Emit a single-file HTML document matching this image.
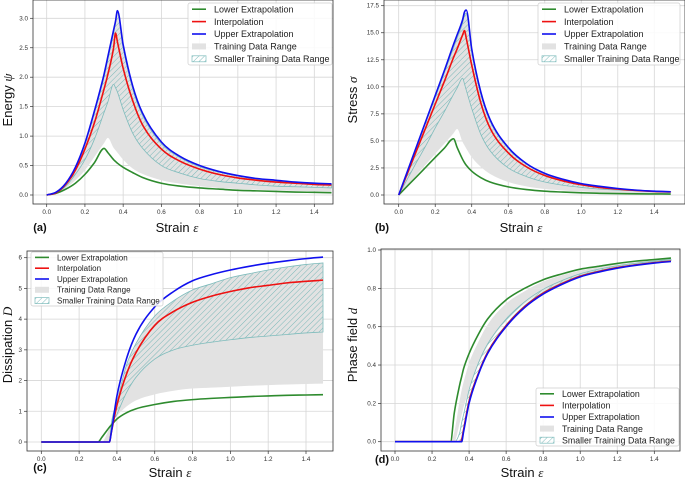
<!DOCTYPE html>
<html><head><meta charset="utf-8">
<style>
html,body{margin:0;padding:0;background:#fff;}
svg{display:block;font-family:"Liberation Sans",sans-serif;}
</style></head>
<body>
<svg id="fig" width="685" height="481" viewBox="0 0 685 481" xmlns="http://www.w3.org/2000/svg">
<defs>
<pattern id="hatch" patternUnits="userSpaceOnUse" width="4" height="4" patternTransform="rotate(45)">
<line x1="0" y1="0" x2="0" y2="4" stroke="#6fb3b3" stroke-width="0.9"/>
</pattern>
</defs>
</svg>
<script>
// shared strain grid
const strain = [0,0.05,0.1,0.15,0.2,0.25,0.3,0.32,0.35,0.36,0.37,0.4,0.45,0.5,0.6,0.7,0.8,0.9,1.0,1.1,1.2,1.3,1.4,1.49];

// (a) energy
const energyUpper = [0,0.05,0.2,0.47,0.88,1.43,2.05,2.35,2.8,2.95,3.13,2.55,1.85,1.4,0.9,0.65,0.5,0.4,0.33,0.28,0.25,0.22,0.2,0.19];
const energyInterp = [0,0.04,0.18,0.42,0.78,1.23,1.8,2.05,2.5,2.75,2.6,2.15,1.6,1.2,0.78,0.57,0.44,0.35,0.29,0.25,0.22,0.2,0.18,0.17];
const energyLower = [0,0.03,0.1,0.2,0.35,0.55,0.79,0.72,0.6,0.57,0.54,0.47,0.38,0.3,0.2,0.15,0.12,0.1,0.08,0.07,0.06,0.05,0.045,0.04];
const energyTrainLo = [0,0.03,0.12,0.25,0.42,0.65,0.88,0.97,0.8,0.76,0.72,0.6,0.45,0.36,0.25,0.19,0.15,0.12,0.1,0.09,0.08,0.07,0.065,0.06];
const energyTrainHi = [0,0.05,0.19,0.45,0.86,1.4,2.0,2.3,2.75,2.92,3.1,2.5,1.8,1.36,0.87,0.63,0.48,0.39,0.32,0.27,0.24,0.21,0.19,0.18];
const energySmallLo = [0,0.04,0.15,0.35,0.6,0.95,1.4,1.58,1.88,1.82,1.75,1.45,1.05,0.8,0.5,0.37,0.28,0.23,0.2,0.17,0.15,0.14,0.13,0.12];
const energySmallHi = [0,0.05,0.19,0.45,0.86,1.4,2.0,2.3,2.75,2.92,3.1,2.5,1.8,1.36,0.87,0.63,0.48,0.39,0.32,0.27,0.24,0.21,0.19,0.18];
const energyTicks = [0,0.5,1.0,1.5,2.0,2.5,3.0];

// (b) stress
const stressUpper = [0,2.3,4.6,6.9,9.2,11.5,13.9,14.8,16.2,16.9,17.1,13.5,9.5,7,4.4,2.9,2.0,1.45,1.05,0.8,0.6,0.45,0.35,0.3];
const stressInterp = [0,2.1,4.2,6.3,8.4,10.5,12.7,13.5,14.8,15.2,14.5,12.0,8.5,6.2,3.9,2.6,1.8,1.3,0.95,0.7,0.55,0.42,0.33,0.28];
const stressLower = [0,0.87,1.73,2.6,3.47,4.33,5.2,4.4,3.3,3.0,2.75,2.2,1.6,1.2,0.75,0.5,0.35,0.27,0.2,0.16,0.13,0.11,0.1,0.09];
const stressTrainLo = [0,0.95,1.9,2.85,3.8,4.75,5.7,6.1,4.9,4.6,4.3,3.5,2.6,1.95,1.2,0.8,0.55,0.42,0.32,0.26,0.21,0.18,0.16,0.15];
const stressTrainHi = [0,2.25,4.5,6.8,9.0,11.3,13.6,14.5,15.9,16.6,16.8,13.2,9.3,6.85,4.3,2.85,1.95,1.42,1.03,0.78,0.58,0.44,0.34,0.29];
const stressSmallLo = [0,1.55,3.1,4.6,6.2,7.7,9.3,9.9,10.8,10.3,9.7,8.0,5.6,4.1,2.5,1.7,1.2,0.9,0.7,0.55,0.45,0.38,0.33,0.3];
const stressSmallHi = [0,2.25,4.5,6.8,9.0,11.3,13.6,14.5,15.9,16.6,16.8,13.2,9.3,6.85,4.3,2.85,1.95,1.42,1.03,0.78,0.58,0.44,0.34,0.29];
const stressTicks = [0,2.5,5.0,7.5,10.0,12.5,15.0,17.5];

// (c) dissipation
const dissUpper = [0,0,0,0,0,0,0,0,0,0,0.3,1.5,2.7,3.5,4.4,4.9,5.25,5.45,5.6,5.72,5.82,5.9,5.97,6.02];
const dissInterp = [0,0,0,0,0,0,0,0,0,0,0.3,1.2,2.2,2.9,3.8,4.25,4.55,4.75,4.9,5.02,5.1,5.18,5.23,5.27];
const dissLower = [0,0,0,0,0,0,0,0.15,0.4,0.48,0.55,0.75,0.95,1.08,1.22,1.32,1.38,1.42,1.45,1.48,1.5,1.52,1.53,1.54];
const dissTrainLo = [0,0,0,0,0,0,0,0,0.3,0.45,0.6,0.85,1.15,1.35,1.55,1.67,1.74,1.77,1.8,1.83,1.85,1.87,1.89,1.9];
const dissTrainHi = [0,0,0,0,0,0,0,0,0,0,0.6,1.3,2.5,3.2,4.1,4.6,4.95,5.15,5.35,5.48,5.6,5.7,5.78,5.83];
const dissSmallLo = [0,0,0,0,0,0,0,0,0,0,0.5,0.9,1.6,2.1,2.7,3.0,3.15,3.25,3.33,3.4,3.45,3.5,3.55,3.58];
const dissSmallHi = [0,0,0,0,0,0,0,0,0,0,0.6,1.3,2.5,3.2,4.1,4.6,4.95,5.15,5.35,5.48,5.6,5.7,5.78,5.83];
const dissTicks = [0,1,2,3,4,5,6];

// (d) phase field
const phaseUpper = [0,0,0,0,0,0,0,0,0,0,0.05,0.2,0.35,0.46,0.6,0.7,0.77,0.82,0.86,0.885,0.905,0.92,0.932,0.94];
const phaseInterp = [0,0,0,0,0,0,0,0,0,0.01,0.06,0.21,0.355,0.465,0.605,0.705,0.775,0.824,0.863,0.888,0.908,0.922,0.934,0.942];
const phaseLower = [0,0,0,0,0,0,0,0.15,0.3,0.34,0.38,0.46,0.56,0.64,0.74,0.8,0.845,0.875,0.9,0.915,0.93,0.942,0.95,0.958];
const phaseTrainLo = [0,0,0,0,0,0,0,0,0.1,0.14,0.18,0.27,0.4,0.5,0.63,0.72,0.785,0.83,0.868,0.893,0.912,0.926,0.938,0.946];
const phaseTrainHi = [0,0,0,0,0,0,0,0.05,0.22,0.27,0.31,0.41,0.52,0.61,0.72,0.785,0.835,0.868,0.893,0.91,0.924,0.937,0.946,0.953];
const phaseSmallLo = [0,0,0,0,0,0,0,0,0,0.02,0.07,0.22,0.36,0.47,0.61,0.71,0.78,0.828,0.867,0.892,0.911,0.925,0.937,0.945];
const phaseSmallHi = [0,0,0,0,0,0,0,0,0.05,0.1,0.14,0.27,0.41,0.51,0.64,0.73,0.795,0.84,0.876,0.9,0.918,0.931,0.942,0.95];
const phaseTicks = [0,0.2,0.4,0.6,0.8,1.0];

const xTicks = [0,0.2,0.4,0.6,0.8,1.0,1.2,1.4];
const legendLabels = ["Lower Extrapolation","Interpolation","Upper Extrapolation","Training Data Range","Smaller Training Data Range"];

const NS = "http://www.w3.org/2000/svg";
const svg = document.getElementById("fig");
function mk(tag, attrs, parent){
  const e = document.createElementNS(NS, tag);
  for (const k in attrs) e.setAttribute(k, attrs[k]);
  (parent||svg).appendChild(e);
  return e;
}

// monotone cubic (Fritsch-Carlson) path segments in data space
function monoSegs(xArr, yArr, xs, ys){
  const n = xArr.length, d = [], m = new Array(n);
  for (let i=0;i<n-1;i++) d.push((yArr[i+1]-yArr[i])/(xArr[i+1]-xArr[i]));
  m[0]=d[0]; m[n-1]=d[n-2];
  for (let i=1;i<n-1;i++){
    if (d[i-1]*d[i] <= 0) m[i]=0; else m[i]=(d[i-1]+d[i])/2;
  }
  for (let i=0;i<n-1;i++){
    if (d[i]===0){ m[i]=0; m[i+1]=0; continue; }
    const a=m[i]/d[i], b=m[i+1]/d[i], s=a*a+b*b;
    if (s>9){ const t=3/Math.sqrt(s); m[i]=t*a*d[i]; m[i+1]=t*b*d[i]; }
  }
  const segs=[];
  for (let i=0;i<n-1;i++){
    const h=xArr[i+1]-xArr[i];
    segs.push([xs(xArr[i]+h/3), ys(yArr[i]+m[i]*h/3), xs(xArr[i+1]-h/3), ys(yArr[i+1]-m[i+1]*h/3), xs(xArr[i+1]), ys(yArr[i+1])]);
  }
  return segs;
}
function pathFwd(xArr,yArr,xs,ys){
  let d = "M"+xs(xArr[0])+","+ys(yArr[0]);
  monoSegs(xArr,yArr,xs,ys).forEach(s=>{ d+=" C"+s[0]+","+s[1]+" "+s[2]+","+s[3]+" "+s[4]+","+s[5]; });
  return d;
}

const panels = [
 {id:"a", box:[33,0,333,204], x0:46.7, x14:314.3, yv0:0, yp0:195, yv1:3.0, yp1:18.3, yTicks:energyTicks, fmt:v=>v.toFixed(1),
  up:energyUpper, mid:energyInterp, lo:energyLower, tlo:energyTrainLo, thi:energyTrainHi, slo:energySmallLo, shi:energySmallHi,
  leg:[188,3,144,62,9], ylab:"Energy ", ysym:"ψ", ylx:12, yly:100, xlx:177, xly:232, tag:"(a)", tx:40, ty:231},
 {id:"b", box:[384,0,685,204], x0:398.7, x14:654.3, yv0:0, yp0:195, yv1:17.5, yp1:5.7, yTicks:stressTicks, fmt:v=>v.toFixed(1),
  up:stressUpper, mid:stressInterp, lo:stressLower, tlo:stressTrainLo, thi:stressTrainHi, slo:stressSmallLo, shi:stressSmallHi,
  leg:[538,3,142,62,9], ylab:"Stress ", ysym:"σ", ylx:357, yly:100, xlx:521, xly:232, tag:"(b)", tx:382, ty:231},
 {id:"c", box:[27,251,333,451], x0:41.3, x14:306, yv0:0, yp0:442, yv1:6, yp1:257.7, yTicks:dissTicks, fmt:v=>String(v),
  up:dissUpper, mid:dissInterp, lo:dissLower, tlo:dissTrainLo, thi:dissTrainHi, slo:dissSmallLo, shi:dissSmallHi,
  leg:[31,252,132,54,8], ylab:"Dissipation ", ysym:"D", ylx:12, yly:345, xlx:170, xly:477, tag:"(c)", tx:40, ty:471},
 {id:"d", box:[381,249,680,451], x0:395, x14:654.3, yv0:0, yp0:441.7, yv1:1.0, yp1:250, yTicks:phaseTicks, fmt:v=>v.toFixed(1),
  up:phaseUpper, mid:phaseInterp, lo:phaseLower, tlo:phaseTrainLo, thi:phaseTrainHi, slo:phaseSmallLo, shi:phaseSmallHi,
  leg:[536,388,143,58,8.8], ylab:"Phase field ", ysym:"d", ylx:357, yly:345, xlx:522, xly:477, tag:"(d)", tx:382, ty:463}
];

panels.forEach(p=>{
  const g = mk("g",{});
  
  
  const xs = v => p.x0 + (p.x14-p.x0)*v/1.4;
  const ys = v => p.yp0 + (p.yp1-p.yp0)*(v-p.yv0)/(p.yv1-p.yv0);
  const [bx0,by0,bx1,by1] = p.box;
  xTicks.forEach(t=>{
    const l = mk("line",{x1:xs(t),x2:xs(t),y1:by0,y2:by1,stroke:"#d6d6d6","stroke-width":0.8},g);
    
    
    mk("line",{x1:xs(t),x2:xs(t),y1:by1,y2:by1+3,stroke:"#333","stroke-width":0.7},g);
    const tx = mk("text",{x:xs(t),y:by1+10,"font-size":6.3,"text-anchor":"middle",fill:"#333"},g);
    tx.textContent = t.toFixed(1);
    
    
  });
  p.yTicks.forEach(t=>{
    const l = mk("line",{x1:bx0,x2:bx1,y1:ys(t),y2:ys(t),stroke:"#d6d6d6","stroke-width":0.8},g);
    
    
    mk("line",{x1:bx0-3,x2:bx0,y1:ys(t),y2:ys(t),stroke:"#333","stroke-width":0.7},g);
    const tx = mk("text",{x:bx0-5,y:ys(t)+2,"font-size":6.3,"text-anchor":"end",fill:"#333"},g);
    tx.textContent = p.fmt(t);
    
    
  });
  const band = (lo,hi)=>{
    let d = pathFwd(strain,hi,xs,ys);
    const rx = strain.slice().reverse(), rlo = lo.slice().reverse();
    // reversed segments: use negated x to keep monotone ordering
    const segs = monoSegs(rx.map(v=>-v), rlo, v=>xs(-v), ys);
    d += " L"+xs(rx[0])+","+ys(rlo[0]);
    segs.forEach(s=>{ d+=" C"+s[0]+","+s[1]+" "+s[2]+","+s[3]+" "+s[4]+","+s[5]; });
    return d+" Z";
  };
  const tr = mk("path",{d:band(p.tlo,p.thi),fill:"#e2e2e2",stroke:"none"},g);
  
  
  const sm = mk("path",{d:band(p.slo,p.shi),fill:"url(#hatch)",stroke:"#7fbcbc","stroke-width":0.8},g);
  
  
  const line = (arr,col,name)=>{
    const l = mk("path",{d:pathFwd(strain,arr,xs,ys),fill:"none",stroke:col,"stroke-width":1.6,"stroke-linejoin":"round"},g);
    
    
  };
  line(p.lo,"#2e8b2e","lower-extrapolation-line");
  line(p.mid,"#ee1111","interpolation-line");
  line(p.up,"#1010ee","upper-extrapolation-line");
  const fr = mk("rect",{x:bx0,y:by0,width:bx1-bx0,height:by1-by0,fill:"none",stroke:"#333","stroke-width":0.8},g);
  
  
  const [lx,ly,lw,lh,fs] = p.leg;
  const lg = mk("g",{},g);
  
  
  mk("rect",{x:lx,y:ly,width:lw,height:lh,fill:"#fff","fill-opacity":0.85,stroke:"#ccc","stroke-width":0.7,rx:2},lg);
  const step = lh/5;
  const cols = ["#2e8b2e","#ee1111","#1010ee"];
  legendLabels.forEach((lab,i)=>{
    const cy = ly + step*(i+0.5);
    const ent = mk("g",{},lg);
    
    
    if(i<3) mk("line",{x1:lx+4,x2:lx+18,y1:cy,y2:cy,stroke:cols[i],"stroke-width":1.6},ent);
    else if(i==3) mk("rect",{x:lx+4,y:cy-3,width:14,height:6,fill:"#e2e2e2"},ent);
    else mk("rect",{x:lx+4,y:cy-3,width:14,height:6,fill:"url(#hatch)",stroke:"#7fbcbc","stroke-width":0.7},ent);
    const t = mk("text",{x:lx+26,y:cy+fs*0.36,"font-size":fs,fill:"#222"},ent);
    t.textContent = lab;
  });
  const yl = mk("text",{x:p.ylx,y:p.yly,"font-size":13,"text-anchor":"middle",transform:"rotate(-90 "+p.ylx+" "+p.yly+")",fill:"#111"},g);
  
  
  yl.textContent = p.ylab;
  const ysp = mk("tspan",{"font-style":"italic","font-family":"Liberation Serif, serif"},yl);
  ysp.textContent = p.ysym;
  const xl = mk("text",{x:p.xlx,y:p.xly,"font-size":13,"text-anchor":"middle",fill:"#111"},g);
  
  
  xl.textContent = "Strain ";
  const xsp = mk("tspan",{"font-style":"italic","font-family":"Liberation Serif, serif"},xl);
  xsp.textContent = "ε";
  const tg = mk("text",{x:p.tx,y:p.ty,"font-size":11,"font-weight":"bold","text-anchor":"middle",fill:"#111"},g);
  
  
  tg.textContent = p.tag;
});
</script>
</body></html>
